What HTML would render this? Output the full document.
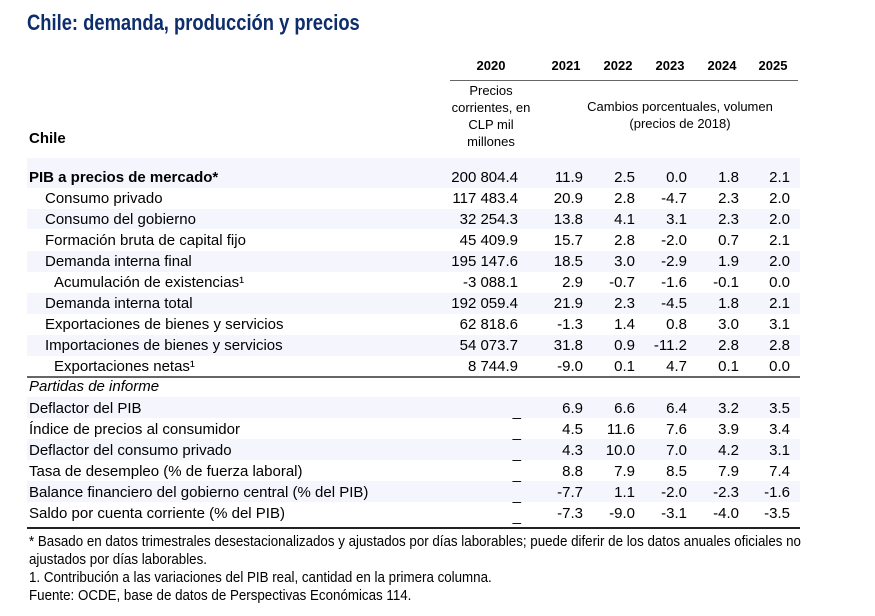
<!DOCTYPE html>
<html><head><meta charset="utf-8"><style>
body{margin:0;width:875px;height:616px;background:#fff;position:relative;overflow:hidden;font-family:"Liberation Sans",Arial,sans-serif;color:#000}
.a{position:absolute;white-space:nowrap}
.t{left:27px;top:10px;font-size:22px;font-weight:bold;color:#0d2d6b;transform:scaleX(0.835);transform-origin:left top}
.s{position:absolute;left:27px;width:773px;background:#f4f5fd}
.r{position:absolute;left:0;width:875px;height:21px;font-size:15px;line-height:21px}
.r span{position:absolute;white-space:nowrap}
.v{text-align:right;width:80px}
.h{font-size:13px;font-weight:bold;text-align:center;width:50px}
.n{font-size:13px;text-align:center;line-height:17px}
.f{left:29px;font-size:14.5px;transform:scaleX(0.92);transform-origin:left top;line-height:18px}
</style></head><body>
<div class="a t">Chile: demanda, producción y precios</div>
<div class="a" style="left:450px;top:80px;width:348px;height:1px;background:#666"></div>
<div class="a h" style="left:466px;top:58px">2020</div>
<div class="a h" style="left:541px;top:58px">2021</div>
<div class="a h" style="left:593px;top:58px">2022</div>
<div class="a h" style="left:645px;top:58px">2023</div>
<div class="a h" style="left:697px;top:58px">2024</div>
<div class="a h" style="left:748px;top:58px">2025</div>
<div class="a n" style="left:441px;top:82px;width:100px">Precios<br>corrientes, en<br>CLP mil<br>millones</div>
<div class="a n" style="left:580px;top:98px;width:200px">Cambios porcentuales, volumen<br>(precios de 2018)</div>
<div class="a" style="left:29px;top:130px;font-size:15px;font-weight:bold">Chile</div>

<div class="s" style="top:158px;height:30px"></div>
<div class="s" style="top:209px;height:20px"></div>
<div class="s" style="top:251px;height:21px"></div>
<div class="s" style="top:293px;height:21px"></div>
<div class="s" style="top:335px;height:21px"></div>
<div class="s" style="top:397px;height:21px"></div>
<div class="s" style="top:439px;height:21px"></div>
<div class="s" style="top:481px;height:21px"></div>
<div class="a" style="left:27px;top:376px;width:773px;height:2px;background:#666"></div>
<div class="a" style="left:27px;top:527px;width:773px;height:2px;background:#222"></div>

<div id="rows"></div>
<script>
var R=[
[178,29,'PIB a precios de mercado*',1,'200 804.4','11.9','2.5','0.0','1.8','2.1'],
[199,45,'Consumo privado',0,'117 483.4','20.9','2.8','-4.7','2.3','2.0'],
[220,45,'Consumo del gobierno',0,'32 254.3','13.8','4.1','3.1','2.3','2.0'],
[241,45,'Formación bruta de capital fijo',0,'45 409.9','15.7','2.8','-2.0','0.7','2.1'],
[262,45,'Demanda interna final',0,'195 147.6','18.5','3.0','-2.9','1.9','2.0'],
[283,54,'Acumulación de existencias¹',0,'-3 088.1','2.9','-0.7','-1.6','-0.1','0.0'],
[304,45,'Demanda interna total',0,'192 059.4','21.9','2.3','-4.5','1.8','2.1'],
[325,45,'Exportaciones de bienes y servicios',0,'62 818.6','-1.3','1.4','0.8','3.0','3.1'],
[346,45,'Importaciones de bienes y servicios',0,'54 073.7','31.8','0.9','-11.2','2.8','2.8'],
[367,54,'Exportaciones netas¹',0,'8 744.9','-9.0','0.1','4.7','0.1','0.0'],
[387,29,'<i>Partidas de informe</i>',0],
[409,29,'Deflactor del PIB',0,'_','6.9','6.6','6.4','3.2','3.5'],
[430,29,'Índice de precios al consumidor',0,'_','4.5','11.6','7.6','3.9','3.4'],
[451,29,'Deflactor del consumo privado',0,'_','4.3','10.0','7.0','4.2','3.1'],
[472,29,'Tasa de desempleo (% de fuerza laboral)',0,'_','8.8','7.9','8.5','7.9','7.4'],
[493,29,'Balance financiero del gobierno central (% del PIB)',0,'_','-7.7','1.1','-2.0','-2.3','-1.6'],
[514,29,'Saldo por cuenta corriente (% del PIB)',0,'_','-7.3','-9.0','-3.1','-4.0','-3.5']];
var X=[518,583,635,687,739,790],h='';
R.forEach(function(r){
 h+='<div class="r" style="top:'+(r[0]-11)+'px"><span style="left:'+r[1]+'px;'+(r[3]?'font-weight:bold;font-size:15px':'')+'">'+r[2]+'</span>';
 for(var i=0;i<6&&r[4+i]!==undefined;i++){var v=r[4+i];
  if(v=='_')h+='<span class="v" style="left:'+(521-80)+'px;top:3px">_</span>';
  else h+='<span class="v" style="left:'+(X[i]-80)+'px">'+v+'</span>';}
 h+='</div>';});
document.getElementById('rows').innerHTML=h;
</script>
<div class="a f" style="top:533px">* Basado en datos trimestrales desestacionalizados y ajustados por días laborables; puede diferir de los datos anuales oficiales no<br>ajustados por días laborables.<br>1. Contribución a las variaciones del PIB real, cantidad en la primera columna.<br>Fuente: OCDE, base de datos de Perspectivas Económicas 114.</div>
</body></html>
